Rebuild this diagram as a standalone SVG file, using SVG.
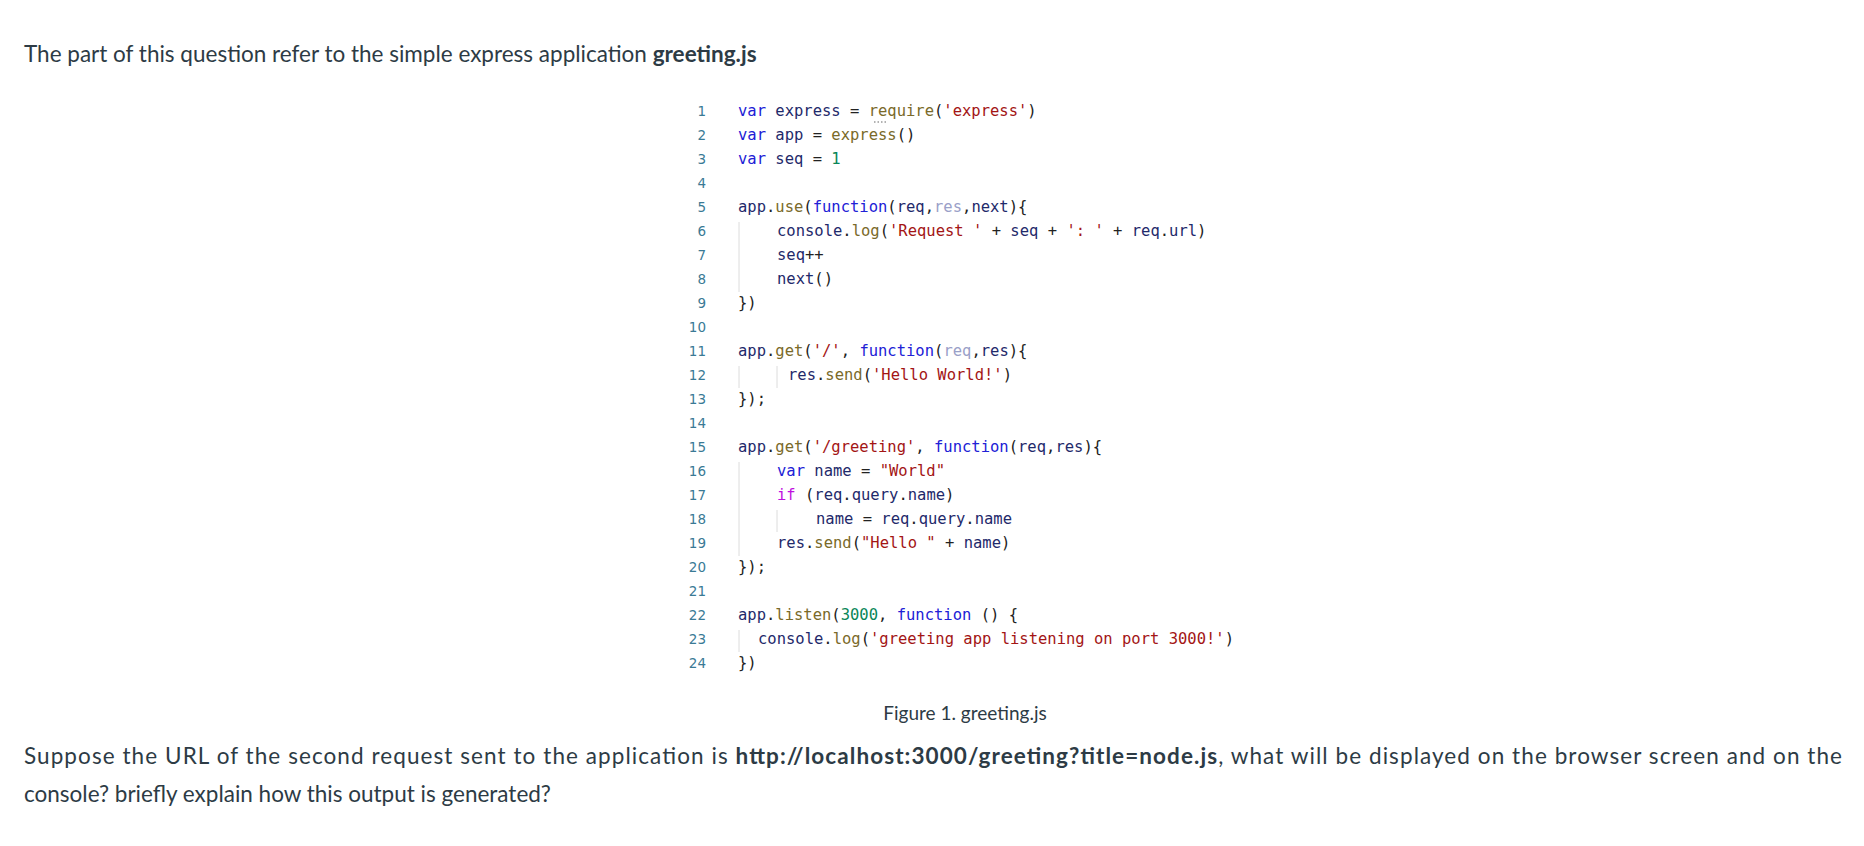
<svg xmlns="http://www.w3.org/2000/svg" width="1864" height="846" viewBox="0 0 1864 846">
<style>
.t{font-family:Lato,"Open Sans",sans-serif;font-size:22.5px;fill:#2d3b45}
.b{font-weight:bold}
.n{font-family:"DejaVu Sans",sans-serif;font-size:13.5px;fill:#3a7a95;text-anchor:end}
.c{font-family:"DejaVu Sans Mono",monospace;font-size:15.5px;fill:#1f2a6b;white-space:pre}
.k{fill:#2121d6}.m{fill:#7a6a2a}.s{fill:#a31515}.g{fill:#098658}.d{fill:#222}.l{fill:#9aa0c8}.p{fill:#c010e0}
.gd{stroke:#dcdcdc;stroke-width:1}
</style>
<rect width="1864" height="846" fill="#fff"/>
<text class="t" x="24" y="62">The part of this question refer to the simple express application <tspan class="b">greeting.js</tspan></text>
<g id="code">
<g class="n">
<text x="706" y="116">1</text><text x="706" y="140">2</text><text x="706" y="164">3</text><text x="706" y="188">4</text><text x="706" y="212">5</text><text x="706" y="236">6</text><text x="706" y="260">7</text><text x="706" y="284">8</text><text x="706" y="308">9</text><text x="706" y="332">10</text><text x="706" y="356">11</text><text x="706" y="380">12</text><text x="706" y="404">13</text><text x="706" y="428">14</text><text x="706" y="452">15</text><text x="706" y="476">16</text><text x="706" y="500">17</text><text x="706" y="524">18</text><text x="706" y="548">19</text><text x="706" y="572">20</text><text x="706" y="596">21</text><text x="706" y="620">22</text><text x="706" y="644">23</text><text x="706" y="668">24</text>
</g>
<g class="gd">
<line x1="739" y1="222" x2="739" y2="292"/>
<line x1="739" y1="366" x2="739" y2="388"/><line x1="777" y1="366" x2="777" y2="388"/>
<line x1="739" y1="462" x2="739" y2="556"/><line x1="777" y1="510" x2="777" y2="532"/>
<line x1="739" y1="630" x2="739" y2="652"/>
</g>
<g class="c">
<text x="738" y="116"><tspan class="k">var</tspan> express <tspan class="d">=</tspan> <tspan class="m">require</tspan><tspan class="d">(</tspan><tspan class="s">'express'</tspan><tspan class="d">)</tspan></text>
<text x="738" y="140"><tspan class="k">var</tspan> app <tspan class="d">=</tspan> <tspan class="m">express</tspan><tspan class="d">()</tspan></text>
<text x="738" y="164"><tspan class="k">var</tspan> seq <tspan class="d">=</tspan> <tspan class="g">1</tspan></text>
<text x="738" y="212">app<tspan class="d">.</tspan><tspan class="m">use</tspan><tspan class="d">(</tspan><tspan class="k">function</tspan><tspan class="d">(</tspan>req<tspan class="d">,</tspan><tspan class="l">res</tspan><tspan class="d">,</tspan>next<tspan class="d">){</tspan></text>
<text x="777" y="236">console<tspan class="d">.</tspan><tspan class="m">log</tspan><tspan class="d">(</tspan><tspan class="s">'Request '</tspan> <tspan class="d">+</tspan> seq <tspan class="d">+</tspan> <tspan class="s">': '</tspan> <tspan class="d">+</tspan> req<tspan class="d">.</tspan>url<tspan class="d">)</tspan></text>
<text x="777" y="260">seq<tspan class="d">++</tspan></text>
<text x="777" y="284">next<tspan class="d">()</tspan></text>
<text x="738" y="308" class="d">})</text>
<text x="738" y="356">app<tspan class="d">.</tspan><tspan class="m">get</tspan><tspan class="d">(</tspan><tspan class="s">'/'</tspan><tspan class="d">,</tspan> <tspan class="k">function</tspan><tspan class="d">(</tspan><tspan class="l">req</tspan><tspan class="d">,</tspan>res<tspan class="d">){</tspan></text>
<text x="788" y="380">res<tspan class="d">.</tspan><tspan class="m">send</tspan><tspan class="d">(</tspan><tspan class="s">'Hello World!'</tspan><tspan class="d">)</tspan></text>
<text x="738" y="404" class="d">});</text>
<text x="738" y="452">app<tspan class="d">.</tspan><tspan class="m">get</tspan><tspan class="d">(</tspan><tspan class="s">'/greeting'</tspan><tspan class="d">,</tspan> <tspan class="k">function</tspan><tspan class="d">(</tspan>req<tspan class="d">,</tspan>res<tspan class="d">){</tspan></text>
<text x="777" y="476"><tspan class="k">var</tspan> name <tspan class="d">=</tspan> <tspan class="s">"World"</tspan></text>
<text x="777" y="500"><tspan class="p">if</tspan> <tspan class="d">(</tspan>req<tspan class="d">.</tspan>query<tspan class="d">.</tspan>name<tspan class="d">)</tspan></text>
<text x="816" y="524">name <tspan class="d">=</tspan> req<tspan class="d">.</tspan>query<tspan class="d">.</tspan>name</text>
<text x="777" y="548">res<tspan class="d">.</tspan><tspan class="m">send</tspan><tspan class="d">(</tspan><tspan class="s">"Hello "</tspan> <tspan class="d">+</tspan> name<tspan class="d">)</tspan></text>
<text x="738" y="572" class="d">});</text>
<text x="738" y="620">app<tspan class="d">.</tspan><tspan class="m">listen</tspan><tspan class="d">(</tspan><tspan class="g">3000</tspan><tspan class="d">,</tspan> <tspan class="k">function</tspan> <tspan class="d">() {</tspan></text>
<text x="758" y="644">console<tspan class="d">.</tspan><tspan class="m">log</tspan><tspan class="d">(</tspan><tspan class="s">'greeting app listening on port 3000!'</tspan><tspan class="d">)</tspan></text>
<text x="738" y="668" class="d">})</text>
</g>
<g stroke="#999" stroke-width="1.5" stroke-dasharray="1.5 2"><line x1="874" y1="122" x2="886" y2="122"/></g>
</g>
<text class="t" x="965" y="720" text-anchor="middle" style="font-size:19px">Figure 1. greeting.js</text>
<text class="t" x="24" y="764" textLength="1818" lengthAdjust="spacing">Suppose the URL of the second request sent to the application is <tspan class="b">http://localhost:3000/greeting?title=node.js</tspan>, what will be displayed on the browser screen and on the</text>
<text class="t" x="24" y="802">console? briefly explain how this output is generated?</text>
</svg>
